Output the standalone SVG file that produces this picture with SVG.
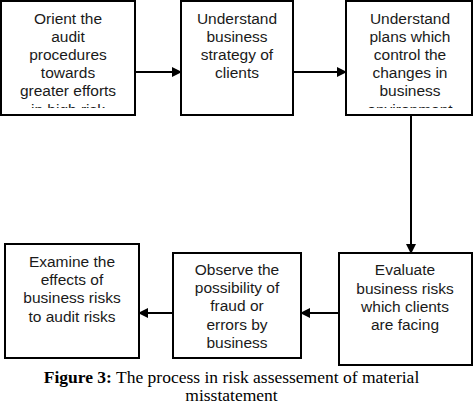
<svg xmlns="http://www.w3.org/2000/svg" width="474" height="404" viewBox="0 0 474 404">
<style>
.box{fill:#fff;stroke:#000;stroke-width:2}
.t{font-family:"Liberation Sans",Arial,sans-serif;font-size:15.5px;fill:#1a1a1a;text-anchor:middle}
.c{stroke:#000;stroke-width:2;fill:none}
.cap{font-family:"Liberation Serif","Times New Roman",serif;font-size:17.5px;fill:#000;text-anchor:middle}
</style>
<defs>
<marker id="ah" markerWidth="10" markerHeight="10" refX="9" refY="5" orient="auto" markerUnits="userSpaceOnUse">
<path d="M0,0 L10,5 L0,10 Z" fill="#000"/>
</marker>
<clipPath id="c1"><rect x="2" y="2" width="132" height="106"/></clipPath>
<clipPath id="c3"><rect x="347" y="2" width="124" height="106"/></clipPath>
</defs>
<rect width="474" height="404" fill="#fff"/>
<g id="n1">
<rect class="box" x="1" y="1" width="134" height="114"/>
<g clip-path="url(#c1)">
<text class="t" x="68" y="24">Orient the</text>
<text class="t" x="68" y="42">audit</text>
<text class="t" x="68" y="60">procedures</text>
<text class="t" x="68" y="78">towards</text>
<text class="t" x="68" y="96">greater efforts</text>
<text class="t" x="68" y="114.5">in high risk</text>
</g>
</g>
<g id="n2">
<rect class="box" x="181" y="1" width="112" height="114"/>
<text class="t" x="237" y="24">Understand</text>
<text class="t" x="237" y="42">business</text>
<text class="t" x="237" y="60">strategy of</text>
<text class="t" x="237" y="78">clients</text>
</g>
<g id="n3">
<rect class="box" x="346" y="1" width="126" height="114"/>
<g clip-path="url(#c3)">
<text class="t" x="410" y="24">Understand</text>
<text class="t" x="410" y="42">plans which</text>
<text class="t" x="410" y="60">control the</text>
<text class="t" x="410" y="78">changes in</text>
<text class="t" x="410" y="96">business</text>
<text class="t" x="410" y="114.5">environment</text>
</g>
</g>
<g id="n4">
<rect class="box" x="339" y="253" width="133" height="112"/>
<text class="t" x="405" y="275">Evaluate</text>
<text class="t" x="405" y="294">business risks</text>
<text class="t" x="405" y="312">which clients</text>
<text class="t" x="405" y="330">are facing</text>
</g>
<g id="n5">
<rect class="box" x="173" y="253" width="128" height="105"/>
<text class="t" x="237" y="275">Observe the</text>
<text class="t" x="237" y="293">possibility of</text>
<text class="t" x="237" y="311">fraud or</text>
<text class="t" x="237" y="330">errors by</text>
<text class="t" x="237" y="348">business</text>
</g>
<g id="n6">
<rect class="box" x="5" y="244" width="134" height="114"/>
<text class="t" x="72" y="267">Examine the</text>
<text class="t" x="72" y="285">effects of</text>
<text class="t" x="72" y="303">business risks</text>
<text class="t" x="72" y="322">to audit risks</text>
</g>
<g id="connectors">
<line class="c" x1="135" y1="72" x2="181" y2="72" marker-end="url(#ah)"/>
<line class="c" x1="293" y1="72" x2="346" y2="72" marker-end="url(#ah)"/>
<line class="c" x1="411" y1="115" x2="411" y2="253" marker-end="url(#ah)"/>
<line class="c" x1="339" y1="313" x2="301" y2="313" marker-end="url(#ah)"/>
<line class="c" x1="173" y1="313" x2="139" y2="313" marker-end="url(#ah)"/>
</g>
<g id="caption">
<text class="cap" x="231.5" y="383"><tspan font-weight="bold">Figure 3:</tspan> The process in risk assessement of material</text>
<text class="cap" x="231.5" y="400.5">misstatement</text>
</g>
</svg>
